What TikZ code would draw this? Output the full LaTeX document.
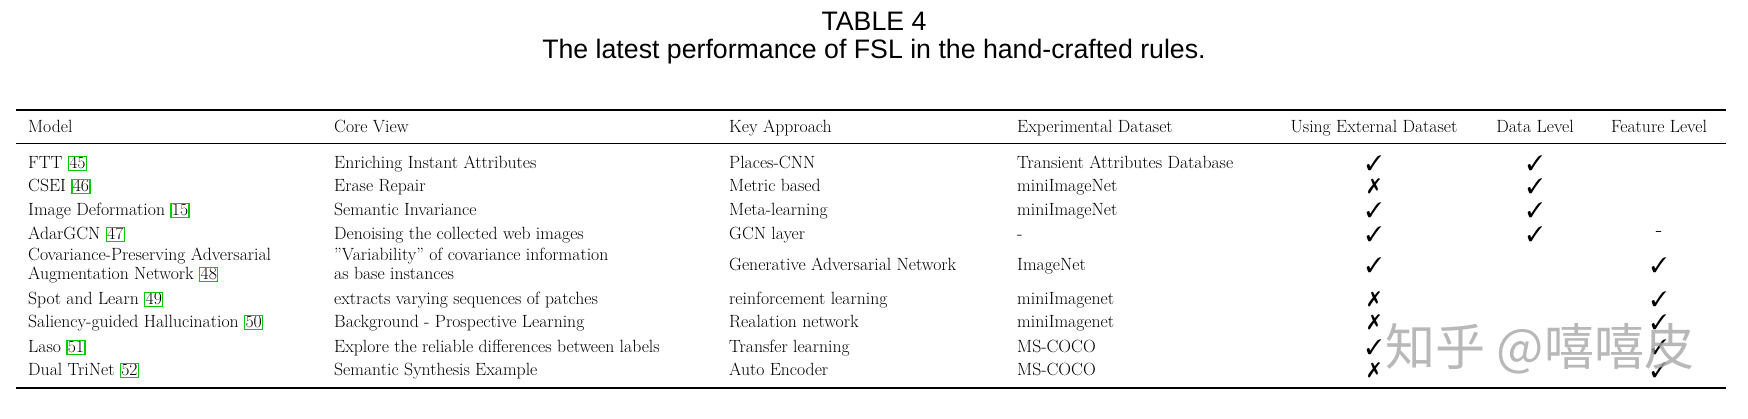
\documentclass[tikz,border=0pt]{standalone}
\usepackage{fontspec}
\usepackage{pifont}
\setmainfont{Latin Modern Roman}
\newfontfamily\sansf{Liberation Sans}
\newfontfamily\cjk{Noto Sans CJK SC}
\newcommand{\cit}[1]{{\setlength{\fboxsep}{0.3pt}\setlength{\fboxrule}{1.2pt}\color{green!80!black}\fbox{\color{black}#1}}}
\newcommand{\yes}{\ding{51}}
\newcommand{\no}{\ding{55}}
\begin{document}
\begin{tikzpicture}[x=1pt,y=-1pt,
  cell/.style={anchor=base west,inner sep=0pt,yshift=-6pt,font=\fontsize{17.7}{18}\selectfont},
  ccell/.style={anchor=base,inner sep=0pt,yshift=-6pt,font=\fontsize{17.7}{18}\selectfont},
  tick/.style={inner sep=0pt,font=\fontsize{21}{22}\selectfont},
  title/.style={font=\sansf\fontsize{26.7}{28}\selectfont,inner sep=0pt}]
\useasboundingbox (0,0) rectangle (1748,419);
\node[title] (t1) at (874,21) {TABLE 4};
\node[title] (t2) at (874,52) {The latest performance of FSL in the hand-crafted rules.};
\draw[line width=2pt] (16,110) coordinate (tl) -- (1726,110) coordinate (tr);
\draw[line width=1pt] (16,144) coordinate (ml) -- (1726,144) coordinate (mr);
\draw[line width=2pt] (16,388) coordinate (bl) -- (1726,388) coordinate (br);
% header
\node[cell] (h1) at (28,127) {Model};
\node[cell] (h2) at (334,127) {Core View};
\node[cell] (h3) at (729,127) {Key Approach};
\node[cell] (h4) at (1017,127) {Experimental Dataset};
\node[ccell] (h5) at (1374,127) {Using External Dataset};
\node[ccell] (h6) at (1535,127) {Data Level};
\node[ccell] (h7) at (1659,127) {Feature Level};
% rows
\foreach \y/\a/\b/\c/\d [count=\i] in {
 163/{FTT \cit{45}}/{Enriching Instant Attributes}/{Places-CNN}/{Transient Attributes Database},
 186/{CSEI \cit{46}}/{Erase Repair}/{Metric based}/{miniImageNet},
 210/{Image Deformation \cit{15}}/{Semantic Invariance}/{Meta-learning}/{miniImageNet},
 234/{AdarGCN \cit{47}}/{Denoising the collected web images}/{GCN layer}/{-},
 265/{}/{}/{Generative Adversarial Network}/{ImageNet},
 299/{Spot and Learn \cit{49}}/{extracts varying sequences of patches}/{reinforcement learning}/{miniImagenet},
 322/{Saliency-guided Hallucination \cit{50}}/{Background - Prospective Learning}/{Realation network}/{miniImagenet},
 347/{Laso \cit{51}}/{Explore the reliable differences between labels}/{Transfer learning}/{MS-COCO},
 370/{Dual TriNet \cit{52}}/{Semantic Synthesis Example}/{Auto Encoder}/{MS-COCO}}{
 \node[cell] (a\i) at (28,\y) {\a};
 \node[cell] (b\i) at (334,\y) {\b};
 \node[cell] (c\i) at (729,\y) {\c};
 \node[cell] (d\i) at (1017,\y) {\d};
}
\node[cell] (a5a) at (28,255) {Covariance-Preserving Adversarial};
\node[cell] (a5b) at (28,274) {Augmentation Network \cit{48}};
\node[cell] (b5a) at (334,255) {”Variability” of covariance information};
\node[cell] (b5b) at (334,274) {as base instances};
% marks
\foreach \y/\e/\f/\g [count=\i] in {
 163/\yes/\yes/{}, 186/\no/\yes/{}, 210/\yes/\yes/{}, 234/\yes/\yes/{-},
 265/\yes/{}/\yes, 299/\no/{}/\yes, 322/\no/{}/\yes, 347/\yes/{}/\yes, 370/\no/{}/\yes}{
 \node[tick] (e\i) at (1374,\y) {\e};
 \node[tick] (f\i) at (1535,\y) {\f};
 \node[tick] (g\i) at (1659,\y) {\g};
}
\node[inner sep=0pt,text=black!35,font=\cjk\fontsize{50}{50}\selectfont,opacity=0.8] (wm) at (1540,349) {知乎 @嘻嘻皮};
\end{tikzpicture}
\end{document}
